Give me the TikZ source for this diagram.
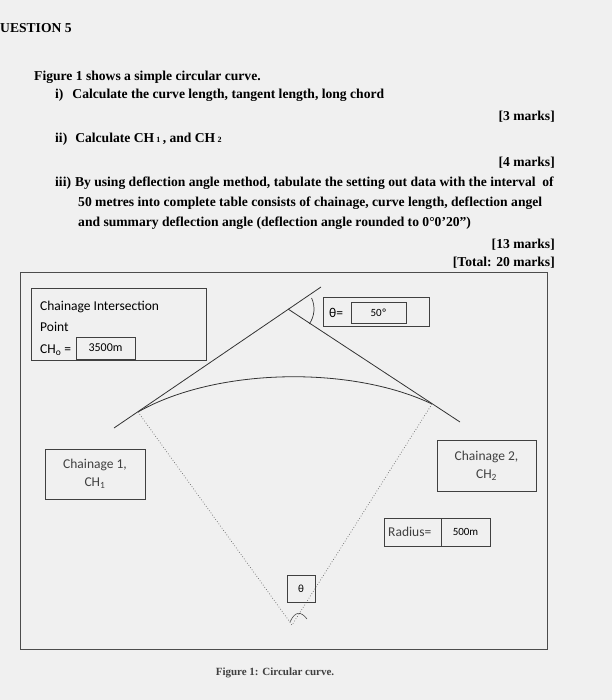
\documentclass[tikz,border=0pt]{standalone}
\usepackage{fontspec}
\setmainfont{Liberation Serif}
\newfontfamily\calfnt{Carlito}
\begin{document}
\begin{tikzpicture}[x=1pt,y=-1pt,
  q/.style={font=\bfseries\fontsize{13.6}{16}\selectfont,anchor=base west,inner sep=0},
  qr/.style={font=\bfseries\fontsize{13.6}{16}\selectfont,anchor=base east,inner sep=0},
  lbl/.style={font=\calfnt\fontsize{13.5}{16}\selectfont,inner sep=0},
  bx/.style={draw=black!75,line width=0.6pt},
  ln/.style={draw=black!80,line width=0.8pt},
  dl/.style={draw=black!60,dotted,line width=0.7pt}]
\fill[black!6] (0,0) rectangle (612,700);
\useasboundingbox (0,0) rectangle (612,700);
\node[q] (t0) at (0,33) {UESTION 5};
\node[q] (t1) at (34,81) {Figure 1 shows a simple circular curve.};
\node[q] (t2) at (55,99) {i)\hspace{9pt}Calculate the curve length, tangent length, long chord};
\node[qr] (t3) at (555,121) {[3 marks]};
\node[q] (t4) at (55,143) {ii)\hspace{8pt}Calculate CH\,{\fontsize{8}{8}\selectfont 1}\,, and CH\,{\fontsize{8}{8}\selectfont 2}};
\node[qr] (t5) at (555,167) {[4 marks]};
\node[q] (t6) at (55,187) {iii)\hspace{4pt}By using deflection angle method, tabulate the setting out data with the interval\ \ of};
\node[q] (t7) at (78,207) {50 metres into complete table consists of chainage, curve length, deflection angel};
\node[q] (t8) at (78,227) {and summary deflection angle (deflection angle rounded to 0°0'20")};
\node[qr] (t9) at (555,248) {[13 marks]};
\node[qr] (t10) at (555,266) {[Total: 20 marks]};
\draw[black!70,line width=0.8pt] (20,272) rectangle (547,649);
\coordinate (IP) at (288,309);
\coordinate (T1) at (138,412);
\coordinate (T2) at (432,404);
\coordinate (O) at (292,625);
\coordinate (E1) at (114,428);
\coordinate (E2) at (460,422);
\coordinate (X) at (321,287);
\draw[ln] (E1) -- (X);
\draw[ln] (IP) -- (E2);
\draw[ln] (T1) .. controls (215,368) and (350,365) .. (T2);
\draw[dl] (T1) -- (O);
\draw[dl] (T2) -- (O);
\draw[black!80,line width=0.7pt] (IP) ++(-25:26) arc[start angle=-25,end angle=35,radius=26];
\draw[black!70,line width=0.6pt] (290,622) .. controls (295,611) and (301,611) .. (307,619);
\node[bx,minimum width=175pt,minimum height=72pt] (cip) at (118.5,324) {};
\node[lbl,anchor=base west] (cipa) at (40,310) {Chainage Intersection};
\node[lbl,anchor=base west] (cipb) at (40,331) {Point};
\node[lbl,anchor=base west] (cipc) at (40,353) {CH\textsubscript{o} =};
\node[bx,minimum width=59pt,minimum height=22pt,lbl,font=\calfnt\fontsize{12}{14}\selectfont] (v1) at (105.5,348) {3500m};
\node[bx,minimum width=106pt,minimum height=29pt] (thb) at (376,311.5) {};
\node[lbl,anchor=base west] (tht) at (329,317) {θ=};
\node[bx,minimum width=55pt,minimum height=21pt,lbl,font=\calfnt\fontsize{11}{12}\selectfont] (v2) at (378.5,312.5) {50º};
\node[bx,minimum width=100pt,minimum height=50pt,lbl,align=center,text=black!75] (c1) at (95,474) {Chainage 1,\\[2pt]CH\textsubscript{1}};
\node[bx,minimum width=99pt,minimum height=51pt,lbl,align=center,text=black!75] (c2) at (486.5,465.5) {Chainage 2,\\[2pt]CH\textsubscript{2}};
\node[bx,minimum width=106pt,minimum height=28pt] (rb) at (437,532) {};
\node[lbl,anchor=west,text=black!75] (rt) at (388,532) {Radius=};
\node[bx,minimum width=49pt,minimum height=28pt,lbl,font=\calfnt\fontsize{11}{12}\selectfont] (v3) at (465.5,532) {500m};
\node[bx,minimum width=28pt,minimum height=27pt,lbl,font=\calfnt\fontsize{11}{12}\selectfont] (thb2) at (301,588.5) {θ};
\node[font=\bfseries\fontsize{11}{13}\selectfont,text=black!75] (cap) at (275,673) {Figure 1: Circular curve.};
\end{tikzpicture}
\end{document}
